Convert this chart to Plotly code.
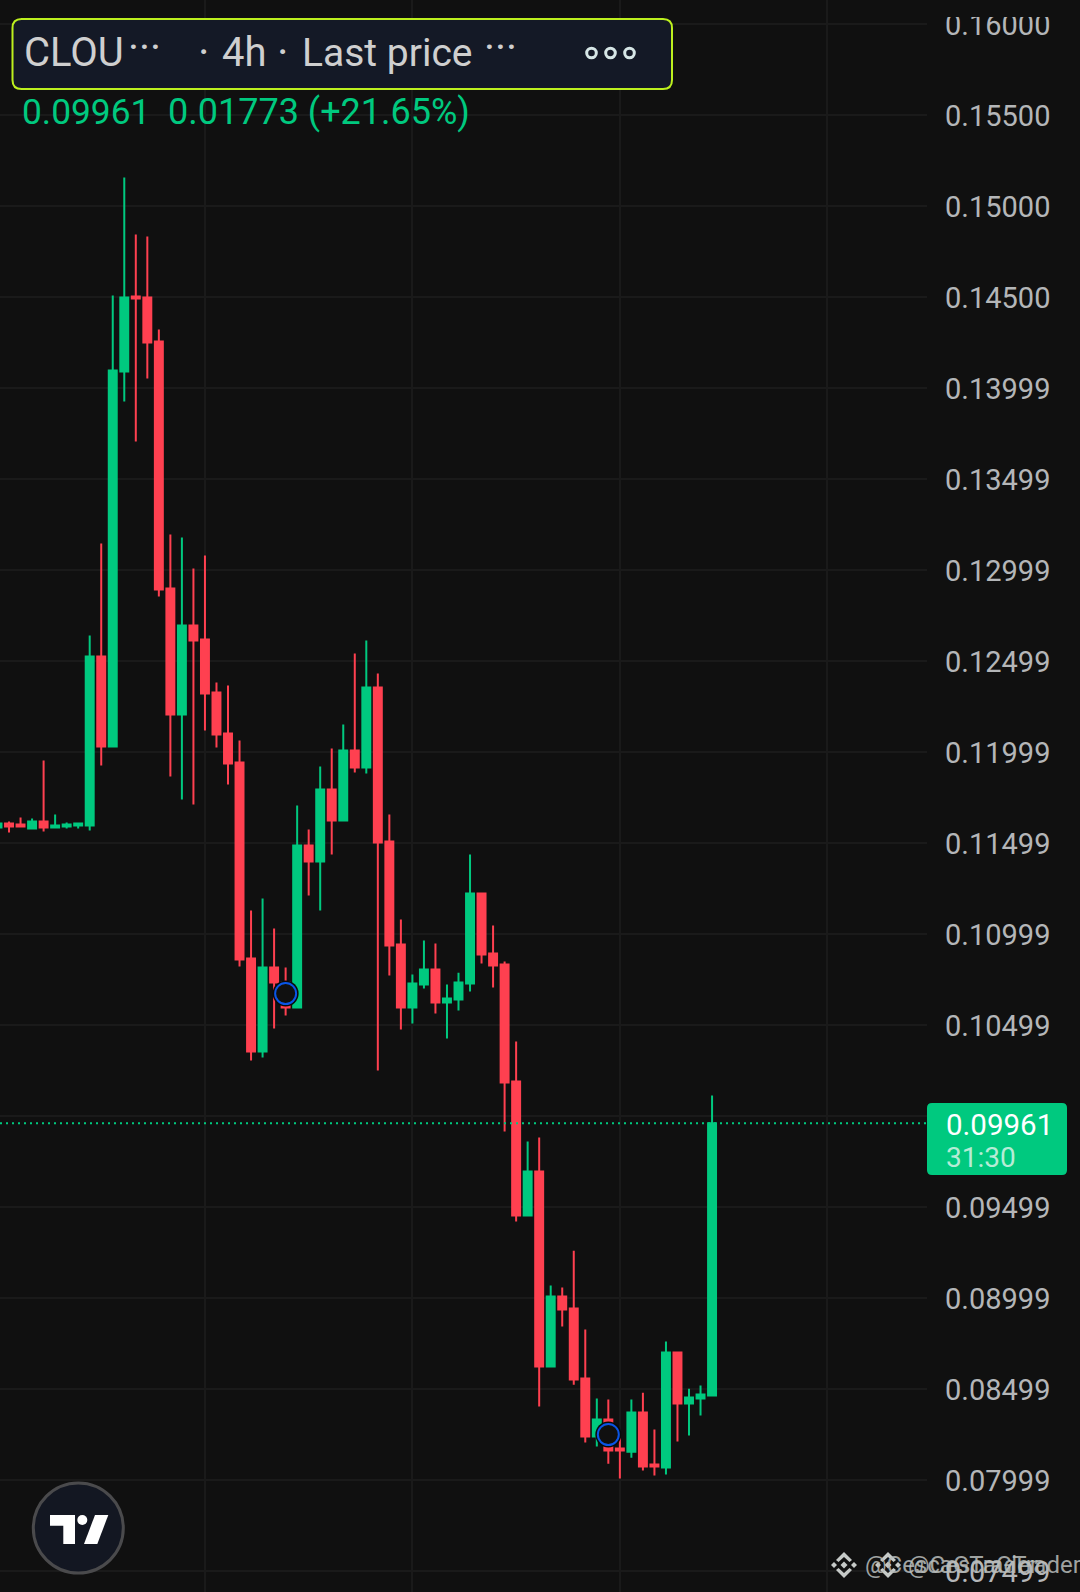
import plotly.graph_objects as go

W, H = 1080, 1592
BG = "#101010"
GRID = "#1a1a1a"
UP = "#00c97f"
DOWN = "#ff4050"
TEXT = "#b4b6b8"

index = list(range(63))
opens = [.11585,.11607,.11601,.11579,.11618,.11585,.11590,.11596,.11596,.12524,.12030,.14090,.14502,.14496,.14255,.12898,
         .12206,.12695,.12618,.12327,.12101,.11942,.10865,.10355,.10816,.10734,.10596,.11486,.11398,.11794,.11623,.12008,
         .11915,.12354,.11508,.10942,.10596,.10723,.10805,.10624,.10640,.10728,.11222,.10893,.10832,.10190,.09454,.09695,
         .08624,.09009,.08943,.08558,.08240,.08333,.08174,.08157,.08372,.08086,.08070,.08701,.08421,.08449,.08465]
highs = [.11612,.11618,.11640,.11634,.11953,.11656,.11612,.11612,.12640,.13145,.14507,.15155,.14842,.14831,.14321,.13194,
         .13178,.13008,.13079,.12382,.12365,.12063,.11129,.11195,.11030,.10816,.11706,.11574,.11920,.12019,.12151,.12541,
         .12612,.12431,.11656,.11080,.10778,.10964,.10948,.10723,.10788,.11437,.11222,.11047,.10849,.10410,.09860,.09882,
         .09069,.09058,.09261,.08828,.08449,.08443,.08234,.08443,.08481,.08278,.08762,.08707,.08503,.08520,.10113]
lows = [.11579,.11557,.11590,.11579,.11563,.11585,.11579,.11579,.11568,.11926,.12030,.13925,.13705,.14051,.12854,.11865,
        .11739,.11711,.12118,.12024,.11821,.10822,.10305,.10322,.10481,.10552,.10596,.11212,.11129,.11437,.11623,.11887,
        .11882,.10250,.10772,.10475,.10508,.10701,.10563,.10426,.10580,.10684,.10838,.10706,.09915,.09421,.09448,.08405,
        .08624,.08844,.08525,.08207,.08185,.08091,.08009,.08124,.08053,.08026,.08031,.08212,.08245,.08355,.08460]
closes = [.11607,.11590,.11590,.11618,.11585,.11596,.11601,.11607,.12524,.12030,.14095,.14496,.14491,.14249,.12892,.12206,
          .12695,.12612,.12321,.12096,.11937,.10860,.10355,.10816,.10734,.10596,.11486,.11398,.11794,.11623,.12008,.11915,
          .12354,.11503,.10937,.10596,.10728,.10805,.10624,.10646,.10734,.11222,.10887,.10827,.10184,.09454,.09695,.08624,
          .09009,.08937,.08553,.08240,.08333,.08163,.08163,.08372,.08075,.08075,.08701,.08421,.08454,.08471,.09961]

last_price = 0.09961
signal_index = [25, 53]
signal_price = [.10673, .08251]

tick_values = [.16,.155,.15,.145,.14,.135,.13,.125,.12,.115,.11,.105,.10,.095,.09,.085,.08,.075]
tick_labels = ["0.16000","0.15500","0.15000","0.14500","0.13999","0.13499","0.12999","0.12499","0.11999",
               "0.11499","0.10999","0.10499","","0.09499","0.08999","0.08499","0.07999","0.07499"]
time_grid = [18, 36, 54, 72]


def px(x):
    return x / W


def py(y):
    return 1 - y / H


def rrect(x0, y0, x1, y1, r):
    return (f"M{px(x0+r)},{py(y0)} L{px(x1-r)},{py(y0)} Q{px(x1)},{py(y0)} {px(x1)},{py(y0+r)} "
            f"L{px(x1)},{py(y1-r)} Q{px(x1)},{py(y1)} {px(x1-r)},{py(y1)} "
            f"L{px(x0+r)},{py(y1)} Q{px(x0)},{py(y1)} {px(x0)},{py(y1-r)} "
            f"L{px(x0)},{py(y0+r)} Q{px(x0)},{py(y0)} {px(x0+r)},{py(y0)} Z")


def poly(points):
    return "M" + " L".join(f"{px(x)},{py(y)}" for x, y in points) + " Z"


def circle(cx, cy, r, **kw):
    return dict(type="circle", xref="paper", yref="paper", x0=px(cx-r), x1=px(cx+r),
                y0=py(cy+r), y1=py(cy-r), **kw)


def label(x, y, text, size, color, anchor="left", font="Roboto", opacity=1):
    return dict(xref="paper", yref="paper", x=px(x), y=py(y), text=text, showarrow=False,
                xanchor=anchor, yanchor="middle", opacity=opacity,
                font=dict(family=font, size=size, color=color), borderpad=0, borderwidth=0)


def path_shape(d, fill, line=None, lw=0):
    return dict(type="path", xref="paper", yref="paper", path=d, fillcolor=fill,
                line=dict(color=line or fill, width=lw), layer="above")


fig = go.Figure()
fig.add_trace(go.Candlestick(
    x=index, open=opens, high=highs, low=lows, close=closes,
    increasing=dict(line=dict(color=UP, width=2), fillcolor=UP),
    decreasing=dict(line=dict(color=DOWN, width=2), fillcolor=DOWN),
    whiskerwidth=0, showlegend=False, hoverinfo="skip"))
fig.add_trace(go.Scatter(x=signal_index, y=signal_price, mode="markers", showlegend=False, hoverinfo="skip",
                         marker=dict(size=26, color="#0a0a0a")))
fig.add_trace(go.Scatter(x=signal_index, y=signal_price, mode="markers", showlegend=False, hoverinfo="skip",
                         marker=dict(size=21, color=BG, line=dict(color="#0a55e6", width=2))))

shapes = [
    dict(type="line", xref="x", yref="y", x0=0.217, x1=80.65, y0=last_price, y1=last_price,
         line=dict(color=UP, width=2, dash="2px,4px"), layer="above"),
    path_shape(rrect(927, -10, 1080, 17, 0), BG),
    path_shape(rrect(12.5, 19, 672, 89, 9), "#141926", "#bdf01e", 2),
    path_shape(rrect(927, 1103, 1067, 1175, 5), UP),
    dict(circle(78.3, 1528, 45, fillcolor="#131722", line=dict(color="#4a4a4c", width=3)), layer="above"),
    path_shape(poly([(50, 1515), (75, 1515), (75, 1544), (63.3, 1544), (63.3, 1525.7), (50, 1525.7)]), "#ffffff"),
    dict(circle(82.3, 1520, 5, fillcolor="#ffffff", line=dict(width=0)), layer="above"),
    path_shape(poly([(95, 1515), (108.3, 1515), (97.3, 1544), (84, 1544)]), "#ffffff"),
]
for cx in (591.5, 610.5, 629.5):
    shapes.append(dict(circle(cx, 53, 4.8, fillcolor="rgba(0,0,0,0)", line=dict(color="#d6e6e6", width=3)), layer="above"))
# Binance-style watermark marks
for ox in (844, 888):
    cy = 1565
    col = "#c6cac8"
    shapes.append(path_shape(poly([(ox, cy-3.5), (ox+3.5, cy), (ox, cy+3.5), (ox-3.5, cy)]), col))
    shapes.append(path_shape(poly([(ox-13, cy), (ox-10, cy-3), (ox-7, cy), (ox-10, cy+3)]), col))
    shapes.append(path_shape(poly([(ox+13, cy), (ox+10, cy-3), (ox+7, cy), (ox+10, cy+3)]), col))
    shapes.append(path_shape(poly([(ox, cy-13), (ox+8, cy-5), (ox+5.5, cy-3), (ox, cy-8), (ox-5.5, cy-3), (ox-8, cy-5)]), col))
    shapes.append(path_shape(poly([(ox, cy+13), (ox+8, cy+5), (ox+5.5, cy+3), (ox, cy+8), (ox-5.5, cy+3), (ox-8, cy+5)]), col))

HEAD = "#cfcfcf"
annotations = [
    label(24, 53, "CLOU", 40, HEAD),
    label(128, 47, "···", 42, HEAD),
    label(198, 53, "·", 44, HEAD),
    label(222, 53, "4h", 40, HEAD),
    label(277, 53, "·", 44, HEAD),
    label(302, 53, "Last price", 39, HEAD),
    label(484, 47, "···", 42, HEAD),
    label(22, 112, "0.09961", 35.3, UP),
    label(168, 112, "0.01773 (+21.65%)", 36, UP),
    label(946, 1125, "0.09961", 29.5, "#ffffff"),
    label(946, 1157, "31:30", 28, "#b5ecd6"),
    label(865, 1565, "@CescaGTrader", 24, "#b9bdbb", opacity=0.85),
    label(908, 1565, "@CescaGTrader", 24, "#b9bdbb", opacity=0.85),
]

fig.update_layout(
    width=W, height=H, autosize=False,
    margin=dict(l=0, r=0, t=0, b=0),
    paper_bgcolor=BG, plot_bgcolor=BG,
    boxmode="overlay", boxgap=0.31, boxgroupgap=0,
    shapes=shapes, annotations=annotations,
    showlegend=False,
    font=dict(family="Roboto"),
    xaxis=dict(domain=[0, 927 / W], range=[0.217, 80.65], rangeslider=dict(visible=False),
               tickmode="array", tickvals=time_grid, showticklabels=False, ticks="",
               showgrid=True, gridcolor=GRID, gridwidth=2, zeroline=False, showline=False),
    yaxis=dict(side="right", range=[0.07386, 0.161303], tickmode="array", tickvals=tick_values,
               ticktext=tick_labels, ticks="", ticklabelstandoff=17, ticklabelshift=1,
               tickfont=dict(family="Roboto", size=29, color=TEXT),
               showgrid=True, gridcolor=GRID, gridwidth=2, zeroline=False, showline=False),
)

fig.write_html("out.html", config=dict(displayModeBar=False),
               post_script="document.body.style.margin='0';document.body.style.background='#101010';")
